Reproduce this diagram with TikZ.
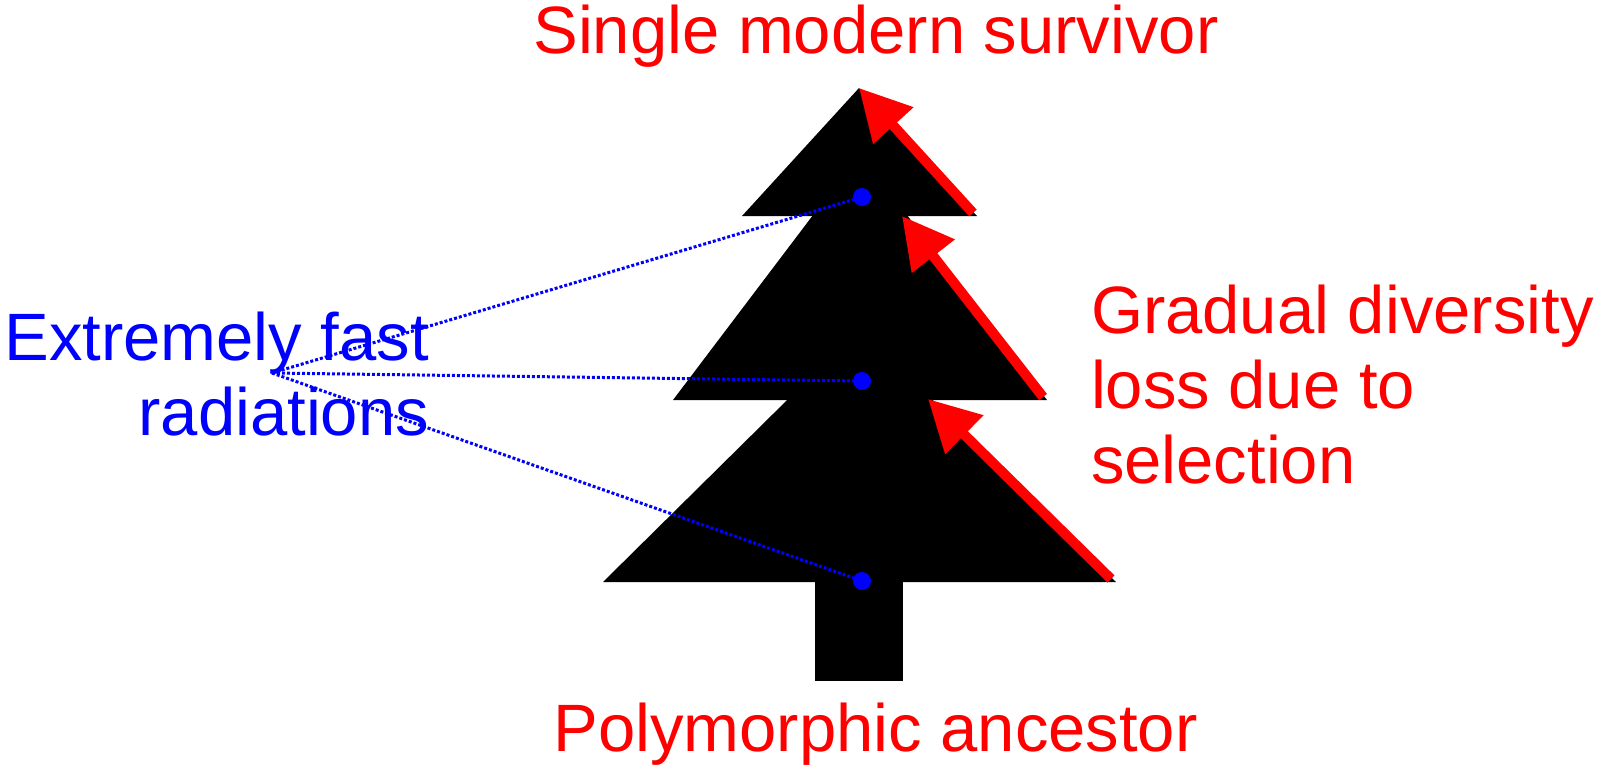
\documentclass[tikz,border=0pt]{standalone}
\usepackage{fontspec}
\setmainfont{Liberation Sans}
\usepackage{tikz}
\usetikzlibrary{arrows.meta}

\tikzset{
	labtxt/.style={inner sep=0, outer sep=0, font=\fontsize{67pt}{75pt}\selectfont},
	raddot/.style={circle, fill=custcol_0_0_ff, inner sep=0, minimum size=18pt},
	radline/.style={custcol_0_0_ff, line width=3pt, dash pattern=on 3pt off 2pt},
	selarrow/.style={custcol_ff_0_0, line width=10pt, -{Triangle[length=51pt,width=52pt]}}
}

\begin{document}
\begin{tikzpicture}[x=1pt,y=-1pt,line cap=butt]
						\definecolor{custcol_0_0_ff}{RGB}{0, 0, 255}
						\definecolor{custcol_ff_0_0}{RGB}{255, 0, 0}
						\definecolor{custcol_0_0_0}{RGB}{0, 0, 0}
						\useasboundingbox (0.0,0.0) rectangle (1600.0,769.0);
						% tree
						\fill [custcol_0_0_0]  (815.0,570.0) rectangle (903.0,681.0) ;
						\fill [custcol_0_0_0]  (603.0,582.0) -- (860.0,328.0) -- (1116.0,582.0) -- cycle;
						\fill [custcol_0_0_0]  (673.0,400.0) -- (860.0,153.0) -- (1047.0,400.0) -- cycle;
						\fill [custcol_0_0_0]  (742.0,216.0) -- (859.0,88.0) -- (977.0,216.0) -- cycle;
						% radiations
						\coordinate (hub) at (272.0,373.0);
						\node[raddot] (rad1) at (862.0,197.0) {};
						\node[raddot] (rad2) at (862.0,381.0) {};
						\node[raddot] (rad3) at (862.0,581.0) {};
						\draw [radline] (hub) -- (rad1);
						\draw [radline] (hub) -- (rad2);
						\draw [radline] (hub) -- (rad3);
						% selection arrows
						\coordinate (sel1a) at (973.0,213.0);
						\coordinate (sel1b) at (859.0,88.0);
						\coordinate (sel2a) at (1043.0,397.0);
						\coordinate (sel2b) at (902.0,216.0);
						\coordinate (sel3a) at (1111.0,579.0);
						\coordinate (sel3b) at (928.0,399.0);
						\draw [selarrow] (sel1a) -- (sel1b);
						\draw [selarrow] (sel2a) -- (sel2b);
						\draw [selarrow] (sel3a) -- (sel3b);
						% labels (base = last line)
						\node[labtxt, custcol_ff_0_0, anchor=base] (survivor) at (876.0,53.0) {Single modern survivor};
						\node[labtxt, custcol_ff_0_0, anchor=base] (ancestor) at (875.5,751.0) {Polymorphic ancestor};
						\node[labtxt, custcol_ff_0_0, anchor=base west, align=left] (gradual) at (1091.0,483.0) {Gradual diversity\\loss due to\\selection};
						\node[labtxt, custcol_0_0_ff, anchor=base east, align=right] (fast) at (429.0,435.0) {Extremely fast\\radiations};
						\end{tikzpicture}
\end{document}
